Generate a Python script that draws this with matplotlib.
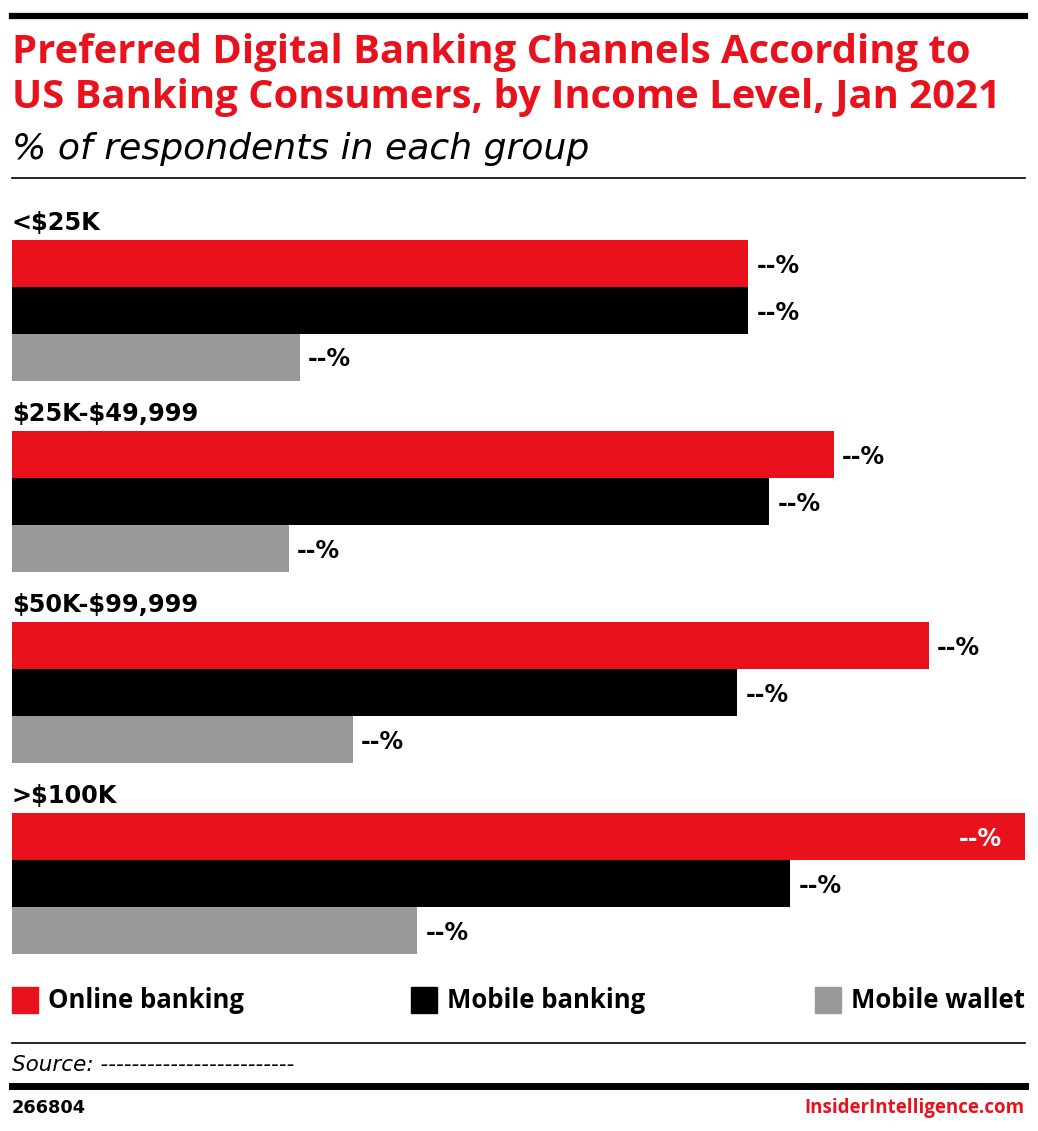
import matplotlib.pyplot as plt
from matplotlib.patches import Rectangle
from matplotlib.lines import Line2D

# data (labels hidden as --%)
groups = ["<$25K", "$25K-$49,999", "$50K-$99,999", ">$100K"]
series = ["Online banking", "Mobile banking", "Mobile wallet"]
online = [45.8, 51.1, 57.0, 63.0]
mobile = [45.8, 47.1, 45.1, 48.4]
wallet = [17.9, 17.2, 21.2, 25.2]
value_labels = ["--%"] * 4

RED = "#E8111C"
GREY = "#999999"
colors = [RED, "#000000", GREY]

plt.rcParams["text.parse_math"] = False
plt.rcParams["font.family"] = ["Open Sans", "DejaVu Sans"]
WIDE = ["DejaVu Sans"]

W, H = 1038, 1131
fig = plt.figure(figsize=(W / 100, H / 100), dpi=100)

def fx(px):
    return px / W

def fy(py):
    return 1 - py / H

# header
fig.add_artist(Line2D([fx(12), fx(1025)], [fy(16), fy(16)], color="black", lw=4.5))
fig.text(fx(12), fy(63), "Preferred Digital Banking Channels According to",
         color=RED, fontsize=28.8, fontweight="bold", va="baseline")
fig.text(fx(12), fy(108), "US Banking Consumers, by Income Level, Jan 2021",
         color=RED, fontsize=28.8, fontweight="bold", va="baseline")
fig.text(fx(12), fy(159), "% of respondents in each group", fontsize=26, style="italic",
         va="baseline", family=WIDE)
fig.add_artist(Line2D([fx(12), fx(1025)], [fy(178), fy(178)], color="black", lw=1.2))

# bars
pitch = 191.3 / 46.9
ax = fig.add_axes([fx(12), fy(954), fx(1025) - fx(12), (954 - 240) / H])
allvals = [online, mobile, wallet]
for i, g in enumerate(groups):
    base = i * pitch
    ax.text(0, base - 0.22, g, fontsize=17.3, fontweight="bold", va="baseline", ha="left",
            family=WIDE)
    for j, vals in enumerate(allvals):
        yc = base + j + 0.5
        ax.barh(yc, vals[i], height=1.0, color=colors[j], edgecolor="none")
        if vals[i] >= max(online) * 0.99:
            ax.annotate(value_labels[i], (vals[i], yc + 0.05), xytext=(-17, 0), textcoords="offset points",
                        ha="right", va="center", color="white", fontsize=17, fontweight="bold",
                        family=WIDE)
        else:
            ax.annotate(value_labels[i], (vals[i], yc + 0.05), xytext=(6, 0), textcoords="offset points",
                        ha="left", va="center", color="black", fontsize=17, fontweight="bold",
                        family=WIDE)
ax.set_xlim(0, max(online))
ax.set_ylim(3 * pitch + 3, 0)
ax.axis("off")

# legend
lx = [12, 411, 815]
for k, name in enumerate(series):
    fig.add_artist(Rectangle((fx(lx[k]), fy(1013)), fx(26), 26 / H, color=colors[k]))
    fig.text(fx(lx[k] + 36), fy(1001), name, fontsize=18.5, fontweight="bold", va="center")

# footer
fig.add_artist(Line2D([fx(12), fx(1025)], [fy(1043), fy(1043)], color="black", lw=1.2))
fig.text(fx(12), fy(1071), "Source: " + "-" * 25, fontsize=15.5, style="italic", va="baseline",
         family=WIDE)
fig.add_artist(Line2D([fx(12), fx(1025)], [fy(1085.5), fy(1085.5)], color="black", lw=5))
fig.text(fx(12), fy(1113), "266804", fontsize=12.8, fontweight="bold", va="baseline", family=WIDE)
fig.text(fx(1025), fy(1113), "InsiderIntelligence.com", fontsize=13.5, color=RED,
         fontweight="bold", va="baseline", ha="right")

fig.savefig("out.png", dpi=100)
